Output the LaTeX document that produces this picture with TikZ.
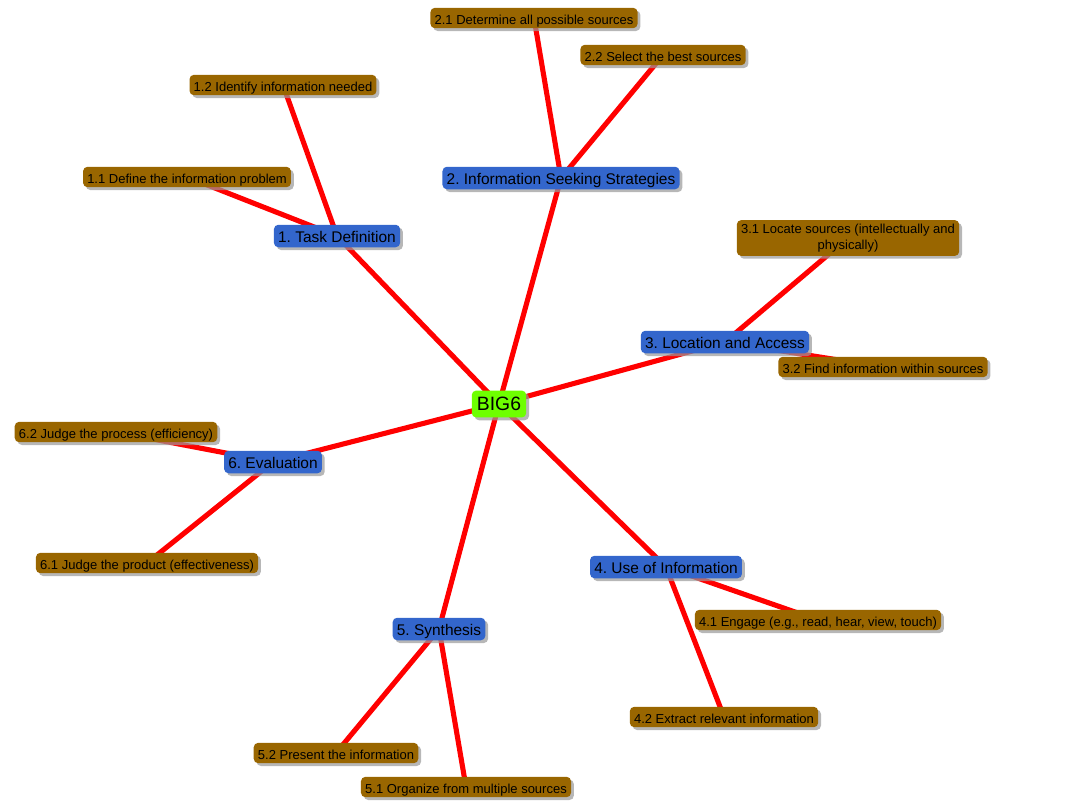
\documentclass[tikz,border=0pt]{standalone}
\usepackage{fontspec}
\setmainfont{Liberation Sans}
\usetikzlibrary{shadows,backgrounds}
\definecolor{topicblue}{RGB}{51,102,204}
\definecolor{leafbrown}{RGB}{153,102,0}
\definecolor{rootgreen}{RGB}{110,255,0}
\frenchspacing
\begin{document}
\begin{tikzpicture}[x=0.02cm,y=-0.02cm,
  box/.style={rounded corners=2.5pt,inner xsep=2.4pt,inner ysep=0pt,text height=0.72em,text depth=0.02em,
    drop shadow={shadow xshift=1.6pt,shadow yshift=-1.6pt,fill=black!40,opacity=0.7}},
  root/.style={box,fill=rootgreen,font=\fontsize{11}{13}\selectfont,minimum height=15.3pt,minimum width=31pt},
  topic/.style={box,fill=topicblue,font=\fontsize{8.8}{10}\selectfont,minimum height=12.8pt},
  leaf/.style={box,fill=leafbrown,font=\fontsize{7.4}{8.8}\selectfont,minimum height=11.6pt},
  link/.style={red,line width=2.9pt}]
\useasboundingbox (0,0) rectangle (1085,806);
\node[root] (big) at (499,404) {BIG6};
\node[topic] (task) at (337,236) {1. Task Definition};
\node[topic] (seek) at (561,178) {2. Information Seeking Strategies};
\node[topic] (loc) at (725,342) {3. Location and Access};
\node[topic] (use) at (666,567) {4. Use of Information};
\node[topic] (syn) at (439,629) {5. Synthesis};
\node[topic] (eval) at (273,462) {6. Evaluation};
\node[leaf] (task1) at (187,177) {1.1 Define the information problem};
\node[leaf] (task2) at (283,85) {1.2 Identify information needed};
\node[leaf] (seek1) at (534,18) {2.1 Determine all possible sources};
\node[leaf] (seek2) at (663,55) {2.2 Select the best sources};
\node[leaf,align=center,text height=,text depth=,minimum height=20.4pt] (loc1) at (848,238) {3.1 Locate sources (intellectually and\\physically)};
\node[leaf] (loc2) at (883,367) {3.2 Find information within sources};
\node[leaf] (use1) at (818,620) {4.1 Engage (e.g., read, hear, view, touch)};
\node[leaf] (use2) at (724,717) {4.2 Extract relevant information};
\node[leaf] (syn1) at (466,787) {5.1 Organize from multiple sources};
\node[leaf] (syn2) at (336,753) {5.2 Present the information};
\node[leaf] (eval1) at (147,563) {6.1 Judge the product (effectiveness)};
\node[leaf] (eval2) at (116,432) {6.2 Judge the process (efficiency)};
\begin{scope}[on background layer]
\foreach \t in {task,seek,loc,use,syn,eval}
  \draw[link] (big.center) -- (\t.center);
\foreach \t/\l in {task/task1,task/task2,seek/seek1,seek/seek2,loc/loc1,loc/loc2,use/use1,use/use2,syn/syn1,syn/syn2,eval/eval1,eval/eval2}
  \draw[link] (\t.center) -- (\l.center);
\end{scope}
\end{tikzpicture}
\end{document}
